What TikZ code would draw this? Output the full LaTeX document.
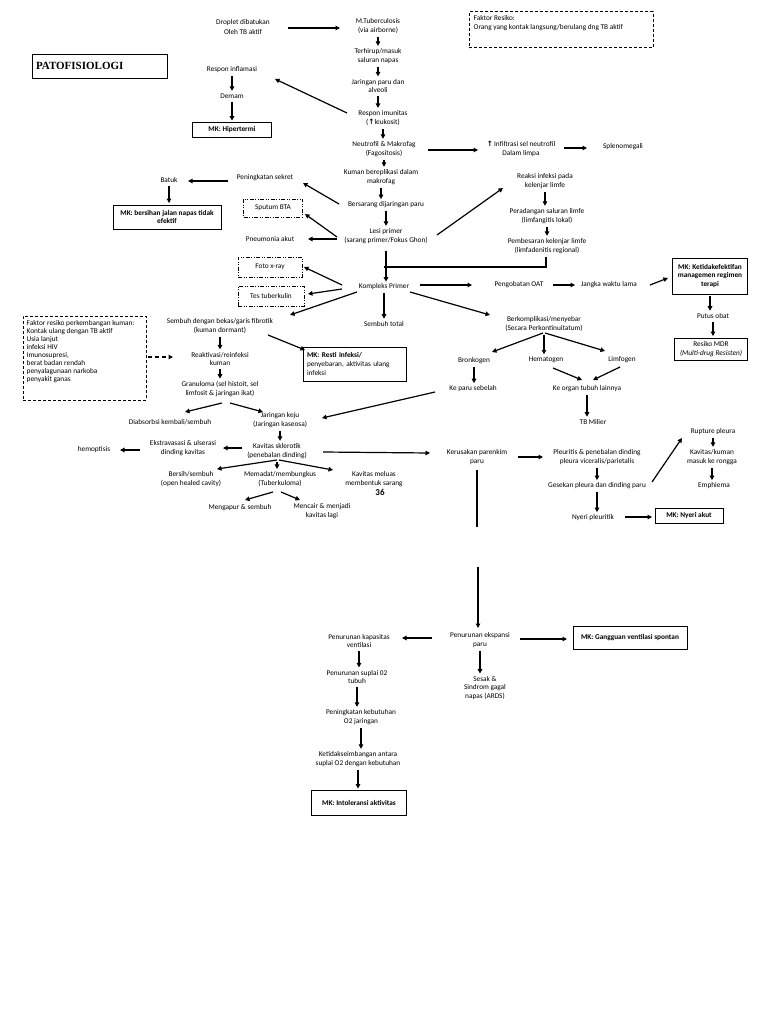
\documentclass[tikz,border=0pt]{standalone}
\usepackage{fontspec}
\setmainfont{Carlito}
\newfontfamily\patofont{Liberation Serif}
\newfontfamily\symfont{DejaVu Sans}
\usetikzlibrary{arrows.meta,calc}
\newcommand\vlink[2]{\draw[arr, shorten <=2pt, shorten >=1.5pt] (#1.south) -- (#1.south |- #2.north);}
\newcommand\uparr{{\symfont\bfseries ↑}}
\begin{document}
\begin{tikzpicture}[x=1pt,y=-1pt,
  every node/.style={font=\fontsize{7.3}{8.6}\selectfont, align=center, inner sep=1pt},
  arr/.style={-{Triangle[length=4.5pt,width=4.5pt]}, line width=1.2pt},
  plain/.style={line width=1.2pt},
  mkbox/.style={draw, line width=0.9pt, font=\fontsize{7.3}{8.6}\selectfont\bfseries},
  plainbox/.style={draw, line width=0.9pt},
  dashbox/.style={draw, line width=1pt, dash pattern=on 3pt off 2pt},
  ddbox/.style={draw, line width=0.9pt, dash pattern=on 4pt off 1.5pt on 1pt off 1.5pt on 1pt off 1.5pt},
  dasharr/.style={arr, dash pattern=on 4pt off 3pt},
  ltext/.style={anchor=north west, align=left}
]
\useasboundingbox[fill=white] (0,0) rectangle (768,1024);

% ---- main column
\node (drop) at (243,27) {Droplet dibatukan\\[1.5pt]Oleh TB aktif};
\node (mtb) at (378,26) {M.Tuberculosis\\(via airborne)};
\node (terhirup) at (378,56) {Terhirup/masuk\\saluran napas};
\node (jar) at (378,86) {Jaringan paru dan\\alveoli};
\node (respon) at (383,118) {Respon imunitas\\(\uparr leukosit)};
\node (neutro) at (384,149) {Neutrofil \& Makrofag\\(Fagositosis)};
\node (kuman) at (381,177) {Kuman bereplikasi dalam\\makrofag};
\node (bersarang) at (386,205) {Bersarang dijaringan paru};
\node (lesi) at (386,236) {Lesi primer\\(sarang primer/Fokus Ghon)};
\node (kompleks) at (384,287) {Kompleks Primer};
\node (stotal) at (384,324) {Sembuh total};

% ---- top left
\node[draw, line width=0.9pt, minimum height=24pt, text width=127pt, inner sep=4pt, align=left,
      font=\patofont\bfseries\fontsize{11}{13}\selectfont] (pato) at (99.5,66) {PATOFISIOLOGI};
\node (inflamasi) at (232,70) {Respon inflamasi};
\node (demam) at (232,96) {Demam};
\node[mkbox, minimum width=79pt, minimum height=15pt] (hiper) at (232,130) {MK: Hipertermi};

% ---- faktor resiko (top)
\node[dashbox, minimum width=184pt, minimum height=36pt] (fr) at (561,30) {};
\node[ltext] (frtext) at ($(fr.north west)+(4,3)$) {Faktor Resiko:\\Orang yang kontak langsung/berulang dng TB aktif};

\node (infil) at (521,149) {\uparr\,Infiltrasi sel neutrofil\\Dalam limpa};
\node (splen) at (623,147) {Splenomegali};

% ---- left middle
\node (sekret) at (265,178) {Peningkatan sekret};
\node (batuk) at (169,180) {Batuk};
\node[mkbox, minimum width=108pt, minimum height=24pt] (bersihan) at (167,217) {MK: bersihan jalan napas tidak\\efektif};
\node[ddbox, minimum width=59pt, minimum height=18pt] (sputum) at (273,208) {Sputum BTA};
\node (pneu) at (270,239) {Pneumonia akut};
\node[ddbox, minimum width=64pt, minimum height=20pt] (foto) at (270,267) {Foto x-ray};
\node[ddbox, minimum width=66pt, minimum height=20pt] (tes) at (271,296) {Tes tuberkulin};

% ---- right middle
\node (reaksi) at (545,181) {Reaksi infeksi pada\\kelenjar limfe};
\node (peradangan) at (547,216) {Peradangan saluran limfe\\(limfangitis lokal)};
\node (pembesaran) at (547,246) {Pembesaran kelenjar limfe\\(limfadenitis regional)};
\node (oat) at (519,285) {Pengobatan OAT};
\node (jangka) at (609,285) {Jangka waktu lama};
\node[mkbox, minimum width=75pt, minimum height=36pt] (ketidak) at (710,276) {MK: Ketidakefektifan\\managemen regimen\\terapi};
\node (putus) at (713,316) {Putus obat};
\node[plainbox, minimum width=73pt, minimum height=22pt] (mdr) at (711,349) {Resiko MDR\\\textit{(Multi-drug Resisten)}};

\node (berkom) at (544,324) {Berkomplikasi/menyebar\\(Secara Perkontinuitatum)};
\node (bronko) at (474,361) {Bronkogen};
\node (hemato) at (546,360) {Hematogen};
\node (limfo) at (622,360) {Limfogen};
\node (paru) at (473,389) {Ke paru sebelah};
\node (organ) at (587,389) {Ke organ tubuh lainnya};
\node (milier) at (593,422) {TB Milier};

% ---- left lower
\node (sbekas) at (220,326) {Sembuh dengan bekas/garis fibrotik\\(kuman dormant)};
\node[dashbox, minimum width=123pt, minimum height=84pt] (fk) at (84.5,358) {};
\node[ltext, font=\fontsize{7.3}{7.9}\selectfont] (fktext) at ($(fk.north west)+(3,4)$) {Faktor resiko perkembangan kuman:\\Kontak ulang dengan TB aktif\\Usia lanjut\\infeksi HIV\\Imunosupresi,\\berat badan rendah\\penyalagunaan narkoba\\penyakit ganas};
\node (reaktivasi) at (220,359) {Reaktivasi/reinfeksi\\kuman};
\node[plainbox, minimum width=103pt, minimum height=34pt, text width=95pt, align=left, inner sep=4pt] (resti) at (354.5,364) {\textbf{MK: Resti Infeksi/}\\penyebaran, aktivitas ulang\\infeksi};
\node (granuloma) at (220,389) {Granuloma (sel histoit, sel\\limfosit \& jaringan ikat)};
\node (diabsorbsi) at (170,422) {Diabsorbsi kembali/sembuh};
\node (keju) at (280,420) {Jaringan keju\\(Jaringan kaseosa)};
\node (kavitas) at (277,451) {Kavitas sklerotik\\(penebalan dinding)};
\node (ekstra) at (183,448) {Ekstravasasi \& ulserasi\\dinding kavitas};
\node (hemop) at (94,450) {hemoptisis};
\node (bersih) at (191,479) {Bersih/sembuh\\(open healed cavity)};
\node (memadat) at (280,479) {Memadat/membungkus\\(Tuberkuloma)};
\node (meluas) at (374,479) {Kavitas meluas\\membentuk sarang};
\node[font=\fontsize{9}{10}\selectfont\bfseries] (pg) at (380,492) {36};
\node (mengapur) at (240,508) {Mengapur \& sembuh};
\node (mencair) at (322,511) {Mencair \& menjadi\\kavitas lagi};

% ---- right lower
\node (kerusakan) at (477,457) {Kerusakan parenkim\\paru};
\node (pleuritis) at (597,457) {Pleuritis \& penebalan dinding\\pleura viceralis/parietalis};
\node (gesekan) at (597,486) {Gesekan pleura dan dinding paru};
\node (nyeri) at (593,518) {Nyeri pleuritik};
\node[mkbox, minimum width=68pt, minimum height=15pt] (nyeribox) at (689,516) {MK: Nyeri akut};
\node (rupture) at (713,432) {Rupture pleura};
\node (kavkuman) at (712,457) {Kavitas/kuman\\masuk ke rongga};
\node (emphiema) at (714,486) {Emphiema};

% ---- bottom
\node (ekspansi) at (480,640) {Penurunan ekspansi\\paru};
\node (kapasitas) at (359,641) {Penurunan kapasitas\\ventilasi};
\node[mkbox, minimum width=114pt, minimum height=23pt] (gangguan) at (630,638) {MK: Gangguan ventilasi spontan};
\node (sesak) at (485,688) {Sesak \&\\Sindrom gagal\\napas (ARDS)};
\node (suplai) at (357,677) {Penurunan suplai 02\\tubuh};
\node (kebutuhan) at (361,717) {Peningkatan kebutuhan\\O2 jaringan};
\node (ketseimbang) at (358,759) {Ketidakseimbangan antara\\suplai O2 dengan kebutuhan};
\node[mkbox, minimum width=95pt, minimum height=25pt] (intol) at (359,803) {MK: Intoleransi aktivitas};

% ================= connectors
\vlink{mtb}{terhirup}
\vlink{terhirup}{jar}
\vlink{jar}{respon}
\vlink{respon}{neutro}
\vlink{neutro}{kuman}
\vlink{kuman}{bersarang}
\vlink{bersarang}{lesi}
\draw[arr, shorten <=6pt, shorten >=1pt] (lesi.south) -- (lesi.south |- kompleks.north);
\vlink{kompleks}{stotal}
\vlink{inflamasi}{demam}
\vlink{demam}{hiper}
\vlink{batuk}{bersihan}
\vlink{reaksi}{peradangan}
\vlink{peradangan}{pembesaran}
\vlink{ketidak}{putus}
\vlink{putus}{mdr}
\vlink{berkom}{hemato}
\vlink{bronko}{paru}
\vlink{organ}{milier}
\vlink{sbekas}{reaktivasi}
\vlink{reaktivasi}{granuloma}
\vlink{keju}{kavitas}
\vlink{kavitas}{memadat}
\vlink{pleuritis}{gesekan}
\vlink{gesekan}{nyeri}
\vlink{rupture}{kavkuman}
\vlink{kavkuman}{emphiema}
\vlink{ekspansi}{sesak}
\vlink{kapasitas}{suplai}
\vlink{suplai}{kebutuhan}
\vlink{kebutuhan}{ketseimbang}
\vlink{ketseimbang}{intol}

\draw[arr] ($(drop)+(45,1)$) -- ($(mtb)+(-38,2)$);
\draw[arr] ($(respon)+(-36,-5)$) -- ($(inflamasi)+(43,9)$);
\draw[arr] ($(neutro)+(44,1)$) -- ($(infil)+(-43,1)$);
\draw[arr] ($(infil)+(43,-1)$) -- ($(splen)+(-36,1)$);
\draw[arr] ($(bersarang)+(-47,-1)$) -- ($(sekret)+(38,5)$);
\draw[arr] ($(sekret)+(-37,3)$) -- ($(batuk)+(19,1)$);
\draw[arr] ($(lesi)+(-49,1)$) -- ($(sputum)+(32,6)$);
\draw[arr] ($(lesi)+(-49,3)$) -- ($(pneu)+(38,0)$);
\draw[plain] ($(pembesaran)+(-1,11)$) |- ($(kompleks)+(0,-20)$);
\draw[arr] ($(lesi)+(51,-1)$) -- ($(reaksi)+(-42,7)$);
\draw[arr] ($(kompleks)+(-42,-2)$) -- ($(foto)+(34,0)$);
\draw[arr] ($(kompleks)+(-42,2)$) -- ($(tes)+(37,-2)$);
\draw[arr] ($(kompleks)+(36,-2)$) -- ($(oat)+(-47,0)$);
\draw[arr] ($(oat)+(34,0)$) -- ($(jangka)+(-34,0)$);
\draw[arr] ($(jangka)+(41,0)$) -- ($(ketidak)+(-42,2)$);
\draw[arr] ($(kompleks)+(26,5)$) -- ($(berkom)+(-54,-9)$);
\draw[arr] ($(kompleks)+(-27,5)$) -- ($(sbekas)+(70,-11)$);
\draw[arr] ($(berkom)+(-1,9)$) -- ($(bronko)+(18,-9)$);
\draw[arr] ($(berkom)+(1,9)$) -- ($(limfo)+(-17,-9)$);
\draw[arr] ($(hemato)+(7,8)$) -- ($(organ)+(-5,-9)$);
\draw[arr] ($(limfo)+(-2,7)$) -- ($(organ)+(6,-9)$);
\draw[arr] ($(paru)+(-38,3)$) -- ($(keju)+(42,-2)$);
\draw[arr] ($(sbekas)+(48,9)$) -- ($(resti)+(-49.5,-14)$);
\draw[dasharr] ($(fk)+(63.5,-1)$) -- ($(reaktivasi)+(-47,-2)$);
\draw[arr] ($(granuloma)+(2,14)$) -- ($(diabsorbsi)+(15,-10)$);
\draw[arr] ($(granuloma)+(10,14)$) -- ($(keju)+(-17,-8)$);
\draw[arr] ($(kavitas)+(-35,-3)$) -- ($(ekstra)+(40,0)$);
\draw[arr] ($(ekstra)+(-43,2)$) -- ($(hemop)+(26,0)$);
\draw[arr] ($(kavitas)+(46,1)$) -- ($(kerusakan)+(-47,-4)$);
\draw[arr] ($(kavitas)+(0,9)$) -- ($(bersih)+(26,-10)$);
\draw[arr] ($(kavitas)+(2,9)$) -- ($(meluas)+(-41,-9)$);
\draw[arr] ($(memadat)+(-7,13)$) -- ($(mengapur)+(5,-8)$);
\draw[arr] ($(memadat)+(1,13)$) -- ($(mencair)+(-22,-11)$);
\draw[arr] ($(kerusakan)+(41,0)$) -- ($(pleuritis)+(-54,0)$);
\draw[arr] ($(nyeri)+(32,-1)$) -- ($(nyeribox)+(-37,1)$);
\draw[arr] ($(gesekan)+(55,-4)$) -- ($(rupture)+(-31,6)$);
\coordinate (gapA) at ($(kerusakan)+(0,70)$);
\coordinate (gapB) at ($(ekspansi)+(-2,-73)$);
\draw[plain] ($(kerusakan)+(0,13)$) -- (gapA);
\draw[arr] (gapB) -- ($(ekspansi)+(-2,-12)$);
\draw[arr] ($(ekspansi)+(-48,-2)$) -- ($(kapasitas)+(43,-3)$);
\draw[arr] ($(ekspansi)+(40,-1)$) -- ($(gangguan)+(-63,1)$);
\end{tikzpicture}
\end{document}
